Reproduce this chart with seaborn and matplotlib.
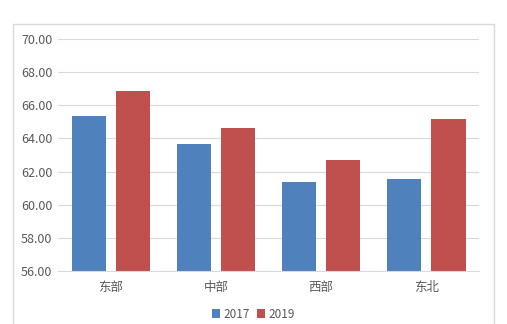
import matplotlib
matplotlib.use('Agg')
import matplotlib.pyplot as plt
import seaborn as sns
import pandas as pd
from matplotlib.patches import Rectangle

regions = ['东部', '中部', '西部', '东北']
years = ['2017', '2019']
v2017 = [65.38, 63.65, 61.39, 61.57]
v2019 = [66.87, 64.62, 62.68, 65.16]

df = pd.DataFrame({
    'region': regions * 2,
    'year': ['2017'] * 4 + ['2019'] * 4,
    'value': v2017 + v2019,
})

sns.set_style('white')
plt.rcParams['font.family'] = ['Noto Sans CJK SC', 'DejaVu Sans']

fig = plt.figure(figsize=(5.07, 3.24), dpi=100)
ax = fig.add_axes([0.1144, 0.1636, 0.8304, 0.716])

# outer frame like the original screenshot
fig.patches.append(Rectangle((13 / 507, -0.05), 481 / 507, 1.05 - 24 / 324,
                             transform=fig.transFigure, fill=False,
                             edgecolor='#d9d9d9', linewidth=1.0))

palette = {'2017': '#4f81bd', '2019': '#c0504d'}
sns.barplot(data=df, x='region', y='value', hue='year', hue_order=years,
            palette=palette, width=0.84, gap=0.23, saturation=1,
            linewidth=0, ax=ax, legend=True)

ax.set_ylim(56, 70)
ax.set_yticks(range(56, 71, 2))
ax.set_yticklabels([f'{t:.2f}' for t in range(56, 71, 2)])
ax.set_xlabel('')
ax.set_ylabel('')
ax.yaxis.grid(True, color='#d9d9d9', linewidth=0.8)
ax.set_axisbelow(True)
for s in ['left', 'right', 'top']:
    ax.spines[s].set_visible(False)
ax.spines['bottom'].set_color('#d9d9d9')
ax.tick_params(axis='y', length=0, labelsize=9, colors='#595959', pad=4)
ax.tick_params(axis='x', length=0, labelsize=9, colors='#595959', pad=7)

ax.legend(loc='center', bbox_to_anchor=(0.5, 10 / 324), bbox_transform=fig.transFigure,
          ncol=2, frameon=False, fontsize=8.5, handlelength=0.7, handleheight=0.7,
          handletextpad=0.3, columnspacing=0.6, labelcolor='#595959')

fig.savefig('out.png', dpi=100)
